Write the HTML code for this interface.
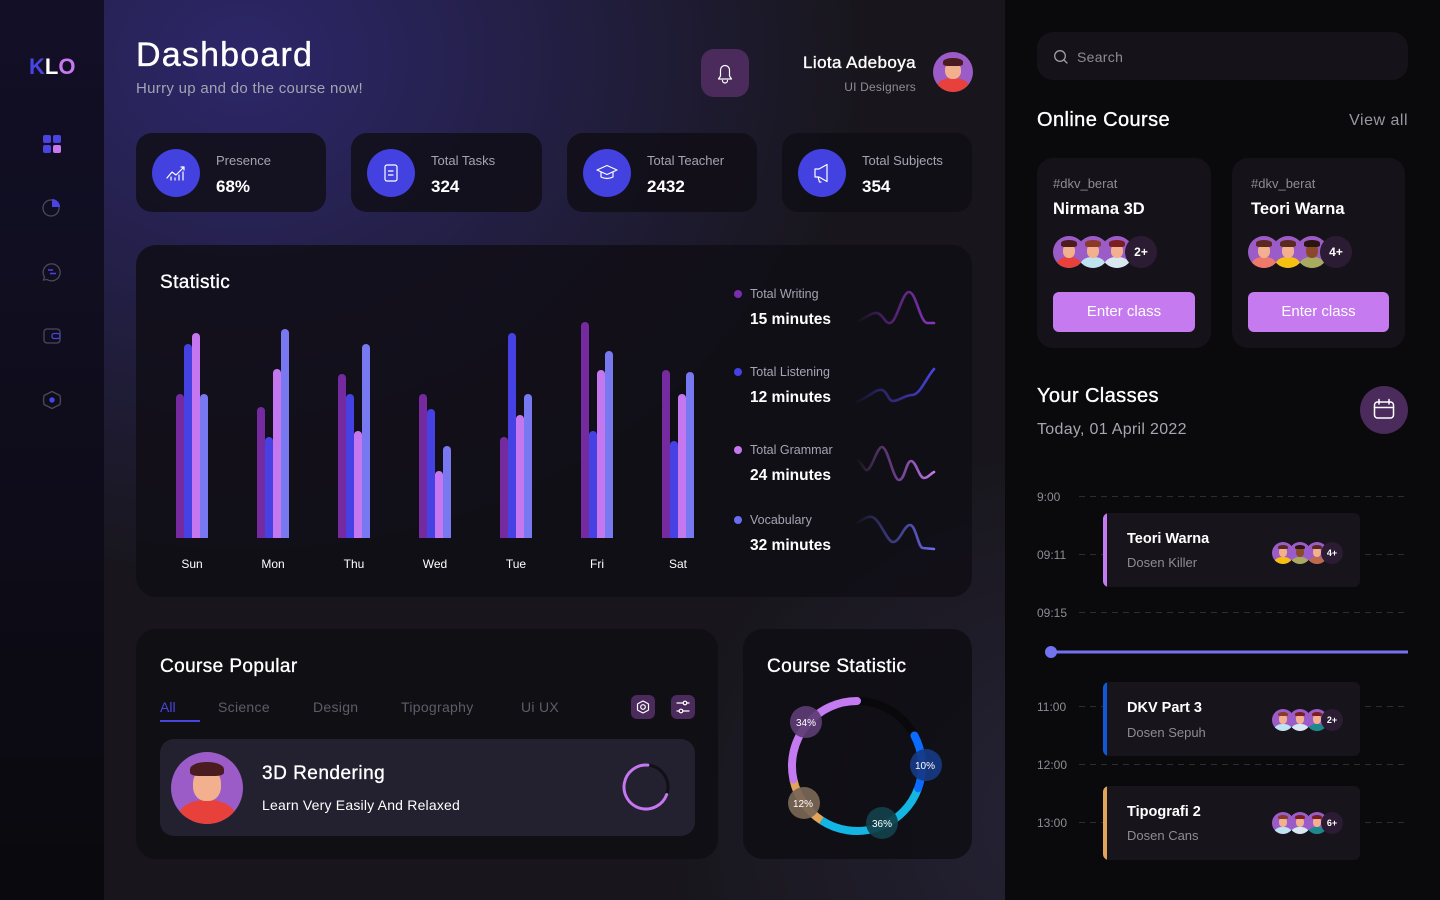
<!DOCTYPE html>
<html><head><meta charset="utf-8">
<style>
*{margin:0;padding:0;box-sizing:border-box}
html,body{width:1440px;height:900px;overflow:hidden;background:#0a090c;font-family:"Liberation Sans",Arial,sans-serif;color:#fff}
.abs{position:absolute}
.t{position:absolute;white-space:nowrap;line-height:1}
.m{-webkit-text-stroke:0.35px #fff}
.card{position:absolute;border-radius:18px;background:rgba(16,14,21,0.82)}
.gray{color:#a6a3b2}
.b{font-weight:bold}
.av{position:absolute;border-radius:50%;overflow:hidden;background:#9b5cc8}
.av .bd{position:absolute;left:8%;right:8%;top:66%;height:60%;border-radius:45% 45% 0 0;background:#e8413c}
.av .hd{position:absolute;left:31%;width:38%;top:24%;height:44%;border-radius:45%;background:#f2b08e}
.av .hr{position:absolute;left:26%;width:48%;top:14%;height:20%;border-radius:50% 50% 25% 25%;background:#4a1b1f}
.av.dk{background:#2b1c33;display:flex;align-items:center;justify-content:center;font-weight:bold;color:#fff}
.ccard{position:absolute;left:1103px;width:257px;height:74px;background:#17151b;border-radius:6px;overflow:hidden}
.ccard i{position:absolute;left:0;top:0;bottom:0;width:4px}
</style></head><body>

<!-- main background -->
<div class="abs" style="left:104px;top:0;width:901px;height:900px;background:
radial-gradient(ellipse 620px 520px at 140px 60px, rgba(46,40,110,0.95), rgba(46,40,110,0) 100%),
radial-gradient(ellipse 420px 380px at 980px 820px, rgba(44,40,66,0.7), rgba(44,40,66,0) 100%),
#18161c"></div>
<!-- sidebar -->
<div class="abs" style="left:0;top:0;width:104px;height:900px;background:linear-gradient(180deg,#120f27 0%,#0f0d1c 45%,#0a090d 100%)"></div>
<!-- right panel -->
<div class="abs" style="left:1005px;top:0;width:435px;height:900px;background:#0a090c"></div>

<!-- cards -->
<div class="card" style="left:136px;top:133px;width:190px;height:79px;border-radius:16px"></div>
<div class="card" style="left:351px;top:133px;width:191px;height:79px;border-radius:16px"></div>
<div class="card" style="left:567px;top:133px;width:190px;height:79px;border-radius:16px"></div>
<div class="card" style="left:782px;top:133px;width:190px;height:79px;border-radius:16px"></div>
<div class="card" style="left:136px;top:245px;width:836px;height:352px;border-radius:20px"></div>
<div class="card" style="left:136px;top:629px;width:582px;height:230px;border-radius:20px;background:rgba(16,14,20,0.9)"></div>
<div class="card" style="left:743px;top:629px;width:229px;height:230px;border-radius:20px;background:rgba(16,14,20,0.9)"></div>
<div class="abs" style="left:160px;top:739px;width:535px;height:97px;border-radius:14px;background:#232030"></div>
<div class="abs" style="left:701px;top:49px;width:48px;height:48px;border-radius:13px;background:#4a2b5c"></div>
<div class="abs" style="left:631px;top:695px;width:24px;height:24px;border-radius:6px;background:#4a2b5c"></div>
<div class="abs" style="left:671px;top:695px;width:24px;height:24px;border-radius:6px;background:#4a2b5c"></div>

<!-- right cards -->
<div class="abs" style="left:1037px;top:32px;width:371px;height:48px;border-radius:16px;background:#151319"></div>
<div class="abs" style="left:1037px;top:158px;width:174px;height:190px;border-radius:16px;background:#151319"></div>
<div class="abs" style="left:1232px;top:158px;width:173px;height:190px;border-radius:16px;background:#151319"></div>
<div class="abs" style="left:1053px;top:292px;width:142px;height:40px;border-radius:6px;background:#c67af0"></div>
<div class="abs" style="left:1248px;top:292px;width:141px;height:40px;border-radius:6px;background:#c67af0"></div>
<div class="abs" style="left:1360px;top:386px;width:48px;height:48px;border-radius:50%;background:#4a2b5c"></div>

<svg class="abs" style="left:0;top:0" width="1440" height="900" viewBox="0 0 1440 900">
<defs>
<linearGradient id="gw" gradientUnits="userSpaceOnUse" x1="856" y1="0" x2="934" y2="0"><stop offset="0" stop-color="#8a35c0" stop-opacity="0"/><stop offset="0.5" stop-color="#6f2c9c" stop-opacity="0.7"/><stop offset="1" stop-color="#8a35c0"/></linearGradient>
<linearGradient id="gl" gradientUnits="userSpaceOnUse" x1="854" y1="0" x2="934" y2="0"><stop offset="0" stop-color="#4a44e0" stop-opacity="0"/><stop offset="0.5" stop-color="#3a36a8" stop-opacity="0.7"/><stop offset="1" stop-color="#4a44e0"/></linearGradient>
<linearGradient id="gg" gradientUnits="userSpaceOnUse" x1="856" y1="0" x2="934" y2="0"><stop offset="0" stop-color="#c77af0" stop-opacity="0"/><stop offset="0.5" stop-color="#8a4fb0" stop-opacity="0.7"/><stop offset="1" stop-color="#c77af0"/></linearGradient>
<linearGradient id="gv" gradientUnits="userSpaceOnUse" x1="856" y1="0" x2="934" y2="0"><stop offset="0" stop-color="#6c6cf0" stop-opacity="0"/><stop offset="0.5" stop-color="#4e4eb0" stop-opacity="0.7"/><stop offset="1" stop-color="#6c6cf0"/></linearGradient>
</defs>
<!-- sidebar icons -->
<rect x="43" y="135" width="8" height="8" rx="2" fill="#4a44e0"/>
<rect x="53" y="135" width="8" height="8" rx="2" fill="#4a44e0"/>
<rect x="43" y="145" width="8" height="8" rx="2" fill="#4a44e0"/>
<rect x="53" y="145" width="8" height="8" rx="2" fill="#c77af0"/>
<circle cx="51" cy="208" r="8" fill="none" stroke="#4c4a58" stroke-width="1.3"/>
<path d="M52 199 A8 8 0 0 1 60 207 L52 207 Z" fill="#4a44e0"/>
<path d="M44.5 277 A8.5 8.5 0 1 1 47 279.5 L43.5 280 Z" fill="none" stroke="#4c4a58" stroke-width="1.3"/>
<path d="M48 270 H53 M50 273.5 H56" stroke="#4a44e0" stroke-width="1.5"/>
<rect x="44" y="329" width="16" height="14" rx="3" fill="none" stroke="#4c4a58" stroke-width="1.3"/>
<rect x="52" y="333.5" width="8" height="5" rx="2" fill="none" stroke="#4a44e0" stroke-width="1.3"/>
<path d="M52 391.5 L56 393.5 L60 395.5 L60.5 400 L60 404.5 L56 406.5 L52 408.5 L48 406.5 L44 404.5 L43.5 400 L44 395.5 L48 393.5 Z" fill="none" stroke="#4c4a58" stroke-width="1.3" stroke-linejoin="round"/>
<circle cx="52" cy="400" r="2.7" fill="#4a44e0"/>

<!-- stat icons -->
<circle cx="176" cy="173" r="24" fill="#4341e0"/>
<circle cx="391" cy="173" r="24" fill="#4341e0"/>
<circle cx="607" cy="173" r="24" fill="#4341e0"/>
<circle cx="822" cy="173" r="24" fill="#4341e0"/>
<g fill="none" stroke="#fff" stroke-width="1.2" stroke-linecap="round" stroke-linejoin="round">
<path d="M167 178 L172 172 L176 175 L184 167 M181 167 H184 V170 M171 180 V177 M175 180 V178 M179 180 V175 M183 180 V172"/>
<rect x="385" y="165" width="12" height="16" rx="2"/><path d="M388.5 171 H393 M388.5 175 H393"/>
<path d="M597 170 L607 165.5 L617 170 L607 174.5 Z M601 172 V177 Q607 180 613 177 V172"/>
<path d="M815 169 H819 L827 164.5 V181.5 L819 177 H815 Z M818 177 L819.5 182 H821"/>
<path d="M718.5 79 H731.5 L729.5 76 V70 A4.5 4.5 0 0 0 720.5 70 V76 Z M722.5 80.5 A2.5 2.5 0 0 0 727.5 80.5"/>
<circle cx="643" cy="707" r="2.3"/><path d="M643 701 L646 702.5 L648.5 704 V710 L646 711.5 L643 713 L640 711.5 L637.5 710 V704 L640 702.5 Z"/>
<path d="M677 703 H689 M677 711 H689"/><circle cx="685" cy="703" r="1.8" fill="#4a2b5c"/><circle cx="681" cy="711" r="1.8" fill="#4a2b5c"/>
</g>

<!-- bars -->
<g>
<path d="M176 538 V398 A4 4 0 0 1 184 398 V538Z" fill="#752aa0"/><path d="M184 538 V348 A4 4 0 0 1 192 348 V538Z" fill="#4541e2"/><path d="M192 538 V337 A4 4 0 0 1 200 337 V538Z" fill="#c577f0"/><path d="M200 538 V398 A4 4 0 0 1 208 398 V538Z" fill="#7878f0"/>
<path d="M257 538 V411 A4 4 0 0 1 265 411 V538Z" fill="#752aa0"/><path d="M265 538 V441 A4 4 0 0 1 273 441 V538Z" fill="#4541e2"/><path d="M273 538 V373 A4 4 0 0 1 281 373 V538Z" fill="#c577f0"/><path d="M281 538 V333 A4 4 0 0 1 289 333 V538Z" fill="#7878f0"/>
<path d="M338 538 V378 A4 4 0 0 1 346 378 V538Z" fill="#752aa0"/><path d="M346 538 V398 A4 4 0 0 1 354 398 V538Z" fill="#4541e2"/><path d="M354 538 V435 A4 4 0 0 1 362 435 V538Z" fill="#c577f0"/><path d="M362 538 V348 A4 4 0 0 1 370 348 V538Z" fill="#7878f0"/>
<path d="M419 538 V398 A4 4 0 0 1 427 398 V538Z" fill="#752aa0"/><path d="M427 538 V413 A4 4 0 0 1 435 413 V538Z" fill="#4541e2"/><path d="M435 538 V475 A4 4 0 0 1 443 475 V538Z" fill="#c577f0"/><path d="M443 538 V450 A4 4 0 0 1 451 450 V538Z" fill="#7878f0"/>
<path d="M500 538 V441 A4 4 0 0 1 508 441 V538Z" fill="#752aa0"/><path d="M508 538 V337 A4 4 0 0 1 516 337 V538Z" fill="#4541e2"/><path d="M516 538 V419 A4 4 0 0 1 524 419 V538Z" fill="#c577f0"/><path d="M524 538 V398 A4 4 0 0 1 532 398 V538Z" fill="#7878f0"/>
<path d="M581 538 V326 A4 4 0 0 1 589 326 V538Z" fill="#752aa0"/><path d="M589 538 V435 A4 4 0 0 1 597 435 V538Z" fill="#4541e2"/><path d="M597 538 V374 A4 4 0 0 1 605 374 V538Z" fill="#c577f0"/><path d="M605 538 V355 A4 4 0 0 1 613 355 V538Z" fill="#7878f0"/>
<path d="M662 538 V374 A4 4 0 0 1 670 374 V538Z" fill="#752aa0"/><path d="M670 538 V445 A4 4 0 0 1 678 445 V538Z" fill="#4541e2"/><path d="M678 538 V398 A4 4 0 0 1 686 398 V538Z" fill="#c577f0"/><path d="M686 538 V376 A4 4 0 0 1 694 376 V538Z" fill="#7878f0"/>
</g>

<!-- legend dots -->
<circle cx="738" cy="294" r="4" fill="#7a2db0"/>
<circle cx="738" cy="372" r="4" fill="#4541e2"/>
<circle cx="738" cy="450" r="4" fill="#c577f0"/>
<circle cx="738" cy="520" r="4" fill="#6c6cf0"/>
<!-- waves -->
<g fill="none" stroke-width="2.6" stroke-linecap="round">
<path stroke="url(#gw)" d="M858 321 C866 318 872 312 877 313 C883 314 885 324 890 323 C897 322 902 292 909 292 C916 292 920 322 927 323 L934 323"/>
<path stroke="url(#gl)" d="M855 402 C866 400 876 388 882 390 C888 392 888 401 893 401 C899 401 905 395 912 395 C920 395 926 378 934 369"/>
<path stroke="url(#gg)" d="M857 460 C862 462 864 471 867 470 C872 469 877 447 882 447 C888 447 893 480 899 480 C905 480 906 461 911 461 C916 461 919 478 924 478 C928 478 930 474 934 472"/>
<path stroke="url(#gv)" d="M857 523 C862 520 867 516 872 517 C880 519 887 542 893 542 C900 542 904 525 910 525 C916 525 918 548 923 548 L934 549"/>
</g>

<!-- progress ring -->
<circle cx="646" cy="787" r="22" fill="none" stroke="#121016" stroke-width="3"/>
<path d="M666.7 794.5 A22 22 0 1 1 647.9 765.1" fill="none" stroke="#c577f0" stroke-width="3" stroke-linecap="round"/>

<!-- donut -->
<circle cx="857" cy="766" r="65" fill="none" stroke="#09080b" stroke-width="8"/>
<path d="M821.6 820.5 A65 65 0 0 1 793.4 779.5" fill="none" stroke="#e0a55a" stroke-width="8"/>
<path d="M918.1 788.2 A65 65 0 0 1 821.6 820.5" fill="none" stroke="#13b6e2" stroke-width="8"/>
<path d="M793.4 779.5 A65 65 0 0 1 857 701" fill="none" stroke="#c47af0" stroke-width="8" stroke-linecap="round"/>
<path d="M914.4 735.5 A65 65 0 0 1 918.1 788.2" fill="none" stroke="#0a6cff" stroke-width="8" stroke-linecap="round"/>
<circle cx="806" cy="722" r="16" fill="#5c3c74" fill-opacity="0.92"/>
<circle cx="926" cy="765" r="16" fill="#173a86" fill-opacity="0.92"/>
<circle cx="804" cy="803" r="16" fill="#7a6656" fill-opacity="0.92"/>
<circle cx="882" cy="823" r="16" fill="#12404b" fill-opacity="0.92"/>
<g font-family="Liberation Sans, sans-serif" font-size="10" fill="#fff" text-anchor="middle">
<text x="806" y="726">34%</text><text x="925" y="769">10%</text><text x="803" y="807">12%</text><text x="882" y="827">36%</text>
</g>

<!-- search icon -->
<circle cx="1060" cy="56" r="5.3" fill="none" stroke="#a09eaa" stroke-width="1.3"/>
<path d="M1064 60 L1067 63" stroke="#a09eaa" stroke-width="1.3" stroke-linecap="round"/>
<!-- calendar icon -->
<g fill="none" stroke="#fff" stroke-width="1.5" stroke-linecap="round">
<rect x="1374.5" y="402" width="19" height="16" rx="3"/><path d="M1374.5 407.5 H1393.5 M1379 399.5 V404 M1389 399.5 V404"/>
</g>

<!-- timeline -->
<g stroke="#2e2c33" stroke-width="1" stroke-dasharray="6 5">
<path d="M1079 496.5 H1408 M1079 554.5 H1408 M1079 612.5 H1408 M1079 706.5 H1408 M1079 764.5 H1408 M1079 822.5 H1408"/>
</g>
<path d="M1051 652 H1408" stroke="#7373f0" stroke-width="3"/>
<circle cx="1051" cy="652" r="6" fill="#7373f0"/>
</svg>

<!-- class cards -->
<div class="ccard" style="top:513px"><i style="background:#c67af0"></i></div>
<div class="ccard" style="top:682px"><i style="background:#1158d6"></i></div>
<div class="ccard" style="top:786px"><i style="background:#e0a55a"></i></div>

<!-- avatars -->
<div class="av" style="left:933px;top:52px;width:40px;height:40px"><div class="bd"></div><div class="hd"></div><div class="hr"></div></div>
<div class="av" style="left:171px;top:752px;width:72px;height:72px"><div class="bd"></div><div class="hd"></div><div class="hr"></div></div>

<div class="av" style="left:1053px;top:236px;width:32px;height:32px"><div class="bd"></div><div class="hd"></div><div class="hr"></div></div>
<div class="av" style="left:1077px;top:236px;width:32px;height:32px"><div class="bd" style="background:#bfe3f0"></div><div class="hd"></div><div class="hr" style="background:#8a3a2a"></div></div>
<div class="av" style="left:1101px;top:236px;width:32px;height:32px"><div class="bd" style="background:#d8e8f0"></div><div class="hd"></div><div class="hr" style="background:#7a1e22"></div></div>
<div class="av dk" style="left:1125px;top:236px;width:32px;height:32px;font-size:12px">2+</div>

<div class="av" style="left:1248px;top:236px;width:32px;height:32px"><div class="bd" style="background:#f07a6a"></div><div class="hd"></div><div class="hr" style="background:#5a2a22"></div></div>
<div class="av" style="left:1272px;top:236px;width:32px;height:32px"><div class="bd" style="background:#f5c010"></div><div class="hd"></div><div class="hr" style="background:#5a2a22"></div></div>
<div class="av" style="left:1296px;top:236px;width:32px;height:32px"><div class="bd" style="background:#a8aa60"></div><div class="hd" style="background:#8a4a2a"></div><div class="hr" style="background:#2a1510"></div></div>
<div class="av dk" style="left:1320px;top:236px;width:32px;height:32px;font-size:12px">4+</div>

<div class="av" style="left:1272px;top:542px;width:22px;height:22px"><div class="bd" style="background:#f5c010"></div><div class="hd"></div><div class="hr" style="background:#5a2a22"></div></div>
<div class="av" style="left:1289px;top:542px;width:22px;height:22px"><div class="bd" style="background:#a8aa60"></div><div class="hd" style="background:#8a4a2a"></div><div class="hr" style="background:#2a1510"></div></div>
<div class="av" style="left:1306px;top:542px;width:22px;height:22px"><div class="bd" style="background:#c06a4a"></div><div class="hd"></div><div class="hr" style="background:#5a2a22"></div></div>
<div class="av dk" style="left:1321px;top:542px;width:22px;height:22px;font-size:9px">4+</div>

<div class="av" style="left:1272px;top:709px;width:22px;height:22px"><div class="bd" style="background:#bfe3f0"></div><div class="hd"></div><div class="hr" style="background:#8a3a2a"></div></div>
<div class="av" style="left:1289px;top:709px;width:22px;height:22px"><div class="bd" style="background:#d8e8f0"></div><div class="hd"></div><div class="hr" style="background:#7a1e22"></div></div>
<div class="av" style="left:1306px;top:709px;width:22px;height:22px"><div class="bd" style="background:#1a8a8a"></div><div class="hd"></div><div class="hr" style="background:#7a1e22"></div></div>
<div class="av dk" style="left:1321px;top:709px;width:22px;height:22px;font-size:9px">2+</div>

<div class="av" style="left:1272px;top:812px;width:22px;height:22px"><div class="bd" style="background:#bfe3f0"></div><div class="hd"></div><div class="hr" style="background:#8a3a2a"></div></div>
<div class="av" style="left:1289px;top:812px;width:22px;height:22px"><div class="bd" style="background:#d8e8f0"></div><div class="hd"></div><div class="hr" style="background:#7a1e22"></div></div>
<div class="av" style="left:1306px;top:812px;width:22px;height:22px"><div class="bd" style="background:#1a8a8a"></div><div class="hd"></div><div class="hr" style="background:#7a1e22"></div></div>
<div class="av dk" style="left:1321px;top:812px;width:22px;height:22px;font-size:9px">6+</div>

<!-- TEXT -->
<div class="t b" style="left:29px;top:55.5px;font-size:22px"><span style="color:#4a44e0">K</span><span style="color:#fff">L</span><span style="color:#c77af0">O</span></div>

<div class="t m" style="left:136px;top:38px;font-size:34px;letter-spacing:1.2px">Dashboard</div>
<div class="t gray" style="left:136px;top:81px;font-size:15px;letter-spacing:0.3px">Hurry up and do the course now!</div>
<div class="t m" style="right:524px;top:54px;font-size:17px;letter-spacing:0.4px">Liota Adeboya</div>
<div class="t" style="right:524px;top:81px;font-size:12px;color:#8f8c99;letter-spacing:0.2px">UI Designers</div>

<div class="t gray" style="left:216px;top:154px;font-size:13px">Presence</div>
<div class="t b" style="left:216px;top:178px;font-size:17px">68%</div>
<div class="t gray" style="left:431px;top:154px;font-size:13px">Total Tasks</div>
<div class="t b" style="left:431px;top:178px;font-size:17px">324</div>
<div class="t gray" style="left:647px;top:154px;font-size:13px">Total Teacher</div>
<div class="t b" style="left:647px;top:178px;font-size:17px">2432</div>
<div class="t gray" style="left:862px;top:154px;font-size:13px">Total Subjects</div>
<div class="t b" style="left:862px;top:178px;font-size:17px">354</div>

<div class="t m" style="left:160px;top:273px;font-size:19px;letter-spacing:0.4px">Statistic</div>
<div class="t" style="left:162px;top:558px;width:60px;text-align:center;font-size:12px">Sun</div>
<div class="t" style="left:243px;top:558px;width:60px;text-align:center;font-size:12px">Mon</div>
<div class="t" style="left:324px;top:558px;width:60px;text-align:center;font-size:12px">Thu</div>
<div class="t" style="left:405px;top:558px;width:60px;text-align:center;font-size:12px">Wed</div>
<div class="t" style="left:486px;top:558px;width:60px;text-align:center;font-size:12px">Tue</div>
<div class="t" style="left:567px;top:558px;width:60px;text-align:center;font-size:12px">Fri</div>
<div class="t" style="left:648px;top:558px;width:60px;text-align:center;font-size:12px">Sat</div>

<div class="t gray" style="left:750px;top:288px;font-size:12.5px">Total Writing</div>
<div class="t b" style="left:750px;top:312px;font-size:15.5px">15 minutes</div>
<div class="t gray" style="left:750px;top:366px;font-size:12.5px">Total Listening</div>
<div class="t b" style="left:750px;top:390px;font-size:15.5px">12 minutes</div>
<div class="t gray" style="left:750px;top:444px;font-size:12.5px">Total Grammar</div>
<div class="t b" style="left:750px;top:468px;font-size:15.5px">24 minutes</div>
<div class="t gray" style="left:750px;top:514px;font-size:12.5px">Vocabulary</div>
<div class="t b" style="left:750px;top:538px;font-size:15.5px">32 minutes</div>

<div class="t m" style="left:160px;top:657px;font-size:19px;letter-spacing:0.4px">Course Popular</div>
<div class="t" style="left:160px;top:700px;font-size:14px;color:#4a44e0">All</div>
<div class="abs" style="left:160px;top:720px;width:40px;height:2px;background:#4a44e0"></div>
<div class="t" style="left:218px;top:700px;font-size:14px;color:#5f5c68;letter-spacing:0.3px">Science</div>
<div class="t" style="left:313px;top:700px;font-size:14px;color:#5f5c68;letter-spacing:0.3px">Design</div>
<div class="t" style="left:401px;top:700px;font-size:14px;color:#5f5c68;letter-spacing:0.3px">Tipography</div>
<div class="t" style="left:521px;top:700px;font-size:14px;color:#5f5c68;letter-spacing:0.3px">Ui UX</div>
<div class="t m" style="left:262px;top:764px;font-size:19px;letter-spacing:0.5px">3D Rendering</div>
<div class="t" style="left:262px;top:798px;font-size:14px;letter-spacing:0.2px">Learn Very Easily And Relaxed</div>

<div class="t m" style="left:767px;top:657px;font-size:19px;letter-spacing:0.4px">Course Statistic</div>

<div class="t" style="left:1077px;top:50px;font-size:14px;color:#8e8b96;letter-spacing:0.3px">Search</div>
<div class="t m" style="left:1037px;top:110px;font-size:20px;letter-spacing:0.4px">Online Course</div>
<div class="t" style="right:32px;top:113px;font-size:16px;color:#9a97a3;letter-spacing:0.5px">View all</div>
<div class="t" style="left:1053px;top:177px;font-size:13px;color:#8e8b96">#dkv_berat</div>
<div class="t b" style="left:1053px;top:201px;font-size:16.5px">Nirmana 3D</div>
<div class="t" style="left:1251px;top:177px;font-size:13px;color:#8e8b96">#dkv_berat</div>
<div class="t b" style="left:1251px;top:201px;font-size:16.5px">Teori Warna</div>
<div class="t" style="left:1053px;top:304px;width:142px;text-align:center;font-size:15px">Enter class</div>
<div class="t" style="left:1248px;top:304px;width:141px;text-align:center;font-size:15px">Enter class</div>

<div class="t m" style="left:1037px;top:386px;font-size:20px;letter-spacing:0.4px">Your Classes</div>
<div class="t" style="left:1037px;top:422px;font-size:16px;color:#a8a5b0;letter-spacing:0.3px">Today, 01 April 2022</div>

<div class="t" style="left:1037px;top:491px;font-size:12px;color:#8e8b96">9:00</div>
<div class="t" style="left:1037px;top:549px;font-size:12px;color:#8e8b96">09:11</div>
<div class="t" style="left:1037px;top:607px;font-size:12px;color:#8e8b96">09:15</div>
<div class="t" style="left:1037px;top:701px;font-size:12px;color:#8e8b96">11:00</div>
<div class="t" style="left:1037px;top:759px;font-size:12px;color:#8e8b96">12:00</div>
<div class="t" style="left:1037px;top:817px;font-size:12px;color:#8e8b96">13:00</div>

<div class="t b" style="left:1127px;top:532px;font-size:14.5px">Teori Warna</div>
<div class="t" style="left:1127px;top:556px;font-size:13px;color:#8e8b96">Dosen Killer</div>
<div class="t b" style="left:1127px;top:701px;font-size:14.5px">DKV Part 3</div>
<div class="t" style="left:1127px;top:726px;font-size:13px;color:#8e8b96">Dosen Sepuh</div>
<div class="t b" style="left:1127px;top:805px;font-size:14.5px">Tipografi 2</div>
<div class="t" style="left:1127px;top:829px;font-size:13px;color:#8e8b96">Dosen Cans</div>

</body></html>
